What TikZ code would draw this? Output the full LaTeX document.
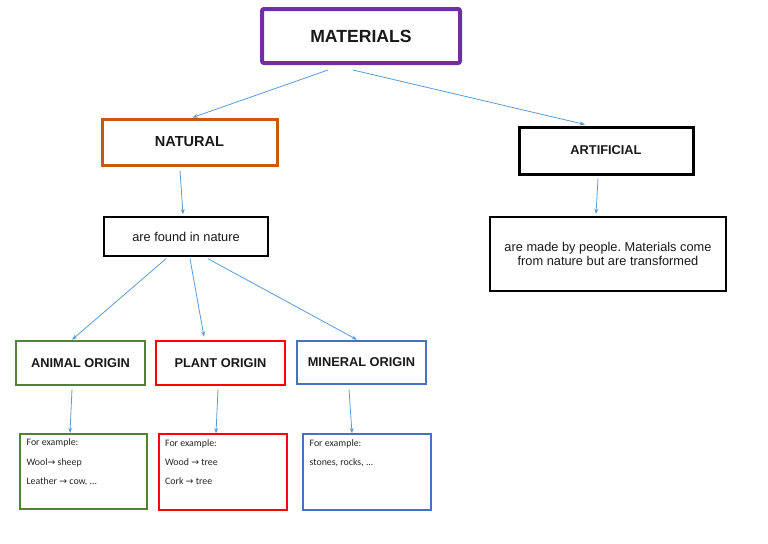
\documentclass[tikz,border=0pt]{standalone}
\usepackage{fontspec}
\setmainfont{Liberation Sans}
\newfontfamily\exfont{Carlito}
\newfontfamily\symfont{DejaVu Sans}
\usetikzlibrary{calc,arrows.meta}
\definecolor{matpurple}{HTML}{7030A0}
\definecolor{natorange}{HTML}{C55A11}
\definecolor{anigreen}{HTML}{548235}
\definecolor{minblue}{HTML}{4472C4}
\definecolor{linkblue}{HTML}{5B9BD5}
\newcommand{\arr}{{\symfont\scriptsize →}}
\frenchspacing
\begin{document}
\begin{tikzpicture}[x=0.75pt, y=-0.75pt,
    box/.style={draw=#1, fill=white, inner sep=0pt, align=center, text=black!90},
    box/.default=black,
    headbox/.style={box=#1, font=\bfseries\fontsize{9.6}{11}\selectfont},
    headbox/.default=black,
    exbox/.style={draw=#1, line width=1.5pt, inner sep=0pt, minimum width=96pt, minimum height=56.5pt},
    exlabel/.style={anchor=north west, align=left, inner sep=0pt, xshift=5.5pt, yshift=-4.2pt,
        text=black!85, font=\exfont\fontsize{7.4}{14.6}\selectfont},
    conn/.style={linkblue, line width=0.6pt, -{Stealth[length=4pt, width=3pt]}}]
    \useasboundingbox (0,0) rectangle (768,543);
    \node[box=matpurple, line width=3pt, rounded corners=1.5pt, minimum width=148.5pt, minimum height=40.5pt,
        font=\bfseries\fontsize{13.2}{15}\selectfont] (mat) at (361,36) {MATERIALS};
    \node[headbox=natorange, line width=2.25pt, minimum width=131.25pt, minimum height=34.5pt,
        font=\bfseries\fontsize{10.9}{13}\selectfont] (nat) at (189.5,142) {NATURAL};
    \node[headbox, line width=2.25pt, minimum width=130.5pt, minimum height=35.25pt] (art) at (606,150.5) {ARTIFICIAL};
    \node[box, line width=1.1pt, minimum width=123pt, minimum height=29.25pt,
        font=\fontsize{9.6}{11}\selectfont] (found) at (186,236.5) {are found in nature};
    \node[box, line width=1.5pt, minimum width=177pt, minimum height=55.5pt,
        font=\fontsize{9.6}{7.6}\selectfont] (made) at (608,254)
        {are made by people. Materials come\\from nature but are transformed};
    \node[headbox=anigreen, line width=1.9pt, minimum width=96.75pt, minimum height=33pt] (ani) at (80.5,363)
        {ANIMAL ORIGIN};
    \node[headbox=red, line width=1.9pt, minimum width=96.75pt, minimum height=33pt] (pla) at (220.5,363)
        {PLANT ORIGIN};
    \node[headbox=minblue, line width=1.9pt, minimum width=96.75pt, minimum height=32.25pt] (min) at (361.5,362.5)
        {MINERAL ORIGIN};
    \node[exbox=anigreen, minimum width=95.25pt, minimum height=56.25pt,
        label={[exlabel]north west:{For example:\\Wool\arr{} sheep\\Leather \arr{} cow, ...}}] (exa) at (83.5,471.5) {};
    \node[exbox=red, label={[exlabel]north west:{For example:\\Wood \arr{} tree\\Cork \arr{} tree}}] (exp) at (222.5,472) {};
    \node[exbox=minblue, label={[exlabel]north west:{For example:\\stones, rocks, ...}}] (exm) at (367,472) {};
    \draw[conn] ($(mat.south)+(-33,5)$) -- ($(nat.north)+(3,0)$);
    \draw[conn] ($(mat.south)+(-8,5)$) -- ($(art.north)+(-21,-1)$);
    \draw[conn] ($(nat.south)+(-9.5,4)$) -- ($(found.north)+(-3,-2)$);
    \draw[conn] ($(art.south)+(-8,3)$) -- ($(made.north)+(-12,-2)$);
    \draw[conn] ($(found.south)+(-20,2)$) -- ($(ani.north)+(-8.5,0)$);
    \draw[conn] ($(found.south)+(4,2)$) -- ($(pla.north)+(-16.5,-3)$);
    \draw[conn] ($(found.south)+(22,2)$) -- ($(min.north)+(-4.5,0)$);
    \draw[conn] ($(ani.south)+(-8.5,3)$) -- ($(exa.north)+(-13.5,0)$);
    \draw[conn] ($(pla.south)+(-2.5,3)$) -- ($(exp.north)+(-6.5,0)$);
    \draw[conn] ($(min.south)+(-12.5,4)$) -- ($(exm.north)+(-15,0)$);
\end{tikzpicture}
\end{document}
